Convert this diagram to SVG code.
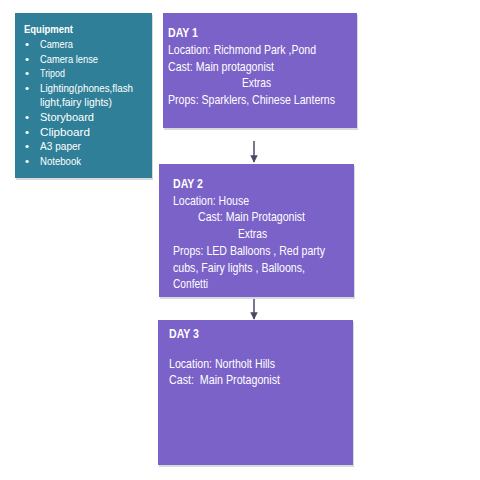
<svg xmlns="http://www.w3.org/2000/svg" width="480" height="480" viewBox="0 0 480 480">
<style>
.t{font-family:"Liberation Sans",Arial,sans-serif;fill:#ffffff}
.e{font-size:11.5px}
.d{font-size:13.5px}
.h{font-size:13px}
.b{font-weight:bold}
.teal{fill:#2f7f98}
.pur{fill:#7b62c8}
.sh{fill:#000;opacity:0.15}
.conn{stroke:#4b4866;stroke-width:1.5;fill:none}
</style>
<defs>
<marker id="ah" viewBox="0 0 10 10" refX="9" refY="5" markerWidth="5" markerHeight="5" orient="auto">
<path d="M0,0 L10,5 L0,10 z" fill="#4b4866"/>
</marker>
</defs>
<rect width="480" height="480" fill="#ffffff"/>
<g id="connectors">
<line class="conn" x1="254" y1="141" x2="254" y2="162" marker-end="url(#ah)"/>
<line class="conn" x1="254" y1="299" x2="254" y2="319" marker-end="url(#ah)"/>
</g>
<g id="equipment">
<rect class="sh" x="16" y="15" width="137" height="165"/>
<rect class="teal" x="15" y="13" width="137" height="165"/>
<text class="t e b" x="24" y="33" textLength="49" lengthAdjust="spacingAndGlyphs">Equipment</text>
<g class="t e">
<text x="25" y="48">•</text><text x="40" y="48" textLength="33" lengthAdjust="spacingAndGlyphs">Camera</text>
<text x="25" y="63">•</text><text x="40" y="63" textLength="58" lengthAdjust="spacingAndGlyphs">Camera lense</text>
<text x="25" y="77">•</text><text x="40" y="77" textLength="25" lengthAdjust="spacingAndGlyphs">Tripod</text>
<text x="25" y="92">•</text><text x="40" y="92" textLength="93" lengthAdjust="spacingAndGlyphs">Lighting(phones,flash</text>
<text x="40" y="106" textLength="72" lengthAdjust="spacingAndGlyphs">light,fairy lights)</text>
<text x="25" y="121">•</text><text x="40" y="121" textLength="54" lengthAdjust="spacingAndGlyphs">Storyboard</text>
<text x="25" y="136">•</text><text x="40" y="136" textLength="50" lengthAdjust="spacingAndGlyphs">Clipboard</text>
<text x="25" y="150">•</text><text x="40" y="150" textLength="41" lengthAdjust="spacingAndGlyphs">A3 paper</text>
<text x="25" y="165">•</text><text x="40" y="165" textLength="41" lengthAdjust="spacingAndGlyphs">Notebook</text>
</g>
</g>
<g id="day1">
<rect class="sh" x="164" y="15" width="194" height="115"/>
<rect class="pur" x="163" y="13" width="194" height="115"/>
<text class="t h b" x="168" y="37" textLength="30" lengthAdjust="spacingAndGlyphs">DAY 1</text>
<g class="t d">
<text x="168" y="54" textLength="148" lengthAdjust="spacingAndGlyphs">Location: Richmond Park ,Pond</text>
<text x="168" y="71" textLength="106" lengthAdjust="spacingAndGlyphs">Cast: Main protagonist</text>
<text x="242" y="87" textLength="29" lengthAdjust="spacingAndGlyphs">Extras</text>
<text x="168" y="104" textLength="167" lengthAdjust="spacingAndGlyphs">Props: Sparklers, Chinese Lanterns</text>
</g>
</g>
<g id="day2">
<rect class="sh" x="160" y="166" width="195" height="133"/>
<rect class="pur" x="159" y="164" width="195" height="133"/>
<text class="t h b" x="173" y="188" textLength="30" lengthAdjust="spacingAndGlyphs">DAY 2</text>
<g class="t d">
<text x="173" y="205" textLength="76" lengthAdjust="spacingAndGlyphs">Location: House</text>
<text x="198" y="221" textLength="107" lengthAdjust="spacingAndGlyphs">Cast: Main Protagonist</text>
<text x="238" y="238" textLength="29" lengthAdjust="spacingAndGlyphs">Extras</text>
<text x="173" y="255" textLength="152" lengthAdjust="spacingAndGlyphs">Props: LED Balloons , Red party</text>
<text x="173" y="272" textLength="132" lengthAdjust="spacingAndGlyphs">cubs, Fairy lights , Balloons,</text>
<text x="173" y="288" textLength="35" lengthAdjust="spacingAndGlyphs">Confetti</text>
</g>
</g>
<g id="day3">
<rect class="sh" x="159" y="322" width="195" height="145"/>
<rect class="pur" x="158" y="320" width="195" height="145"/>
<text class="t h b" x="169" y="338" textLength="30" lengthAdjust="spacingAndGlyphs">DAY 3</text>
<g class="t d">
<text x="169" y="368" textLength="106" lengthAdjust="spacingAndGlyphs">Location: Northolt Hills</text>
<text x="169" y="384" xml:space="preserve" textLength="111" lengthAdjust="spacingAndGlyphs">Cast:  Main Protagonist</text>
</g>
</g>
</svg>
